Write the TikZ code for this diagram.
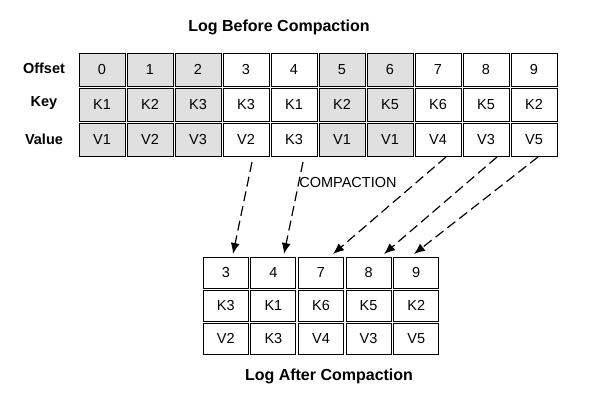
\documentclass[tikz,border=0pt]{standalone}
\usepackage{fontspec}
\setmainfont{Liberation Sans}
\usetikzlibrary{arrows.meta}
\begin{document}
\begin{tikzpicture}[x=1pt,y=-1pt,
  cellbox/.style={draw,line width=1pt,minimum width=46pt,minimum height=33pt,inner sep=0pt,text height=10pt,text depth=0pt,font=\fontsize{14.5}{16}\selectfont},
  gray/.style={fill=black!12},
  lbl/.style={font=\bfseries\fontsize{14.5}{16}\selectfont},
  arr/.style={-{Latex[length=11pt,width=9pt]},line width=1.2pt,dash pattern=on 10pt off 5pt}]
\useasboundingbox (0,0) rectangle (603,400);
\node[font=\bfseries\fontsize{16}{18}\selectfont] (t1) at (279,27) {Log Before Compaction};
\node[font=\bfseries\fontsize{16}{18}\selectfont] (t2) at (329,376) {Log After Compaction};
\node[lbl] (lo) at (44,68) {Offset};
\node[lbl] (lk) at (44,103) {Key};
\node[lbl] (lv) at (44,139) {Value};
\def\keys{{"K1","K2","K3","K3","K1","K2","K5","K6","K5","K2"}}
\def\vals{{"V1","V2","V3","V2","K3","V1","V1","V4","V3","V5"}}
\foreach \i in {0,...,9}{
  \pgfmathsetmacro\cx{78+24+48*\i}
  \pgfmathparse{(\i<3 || \i==5 || \i==6) ? "gray" : "draw"}\let\st\pgfmathresult
  \pgfmathparse{\keys[\i]}\let\kk\pgfmathresult
  \pgfmathparse{\vals[\i]}\let\vv\pgfmathresult
  \node[cellbox,minimum width=46pt,\st] (o\i) at (\cx,69.5) {\i};
  \node[cellbox,\st] (k\i) at (\cx,104.5) {\kk};
  \node[cellbox,\st] (v\i) at (\cx,139.5) {\vv};
}
\foreach \i/\o/\k/\v in {0/3/K3/V2,1/4/K1/K3,2/7/K6/V4,3/8/K5/V3,4/9/K2/V5}{
  \pgfmathsetmacro\cx{202+23.8+47.6*\i}
  \node[cellbox,minimum width=45pt,minimum height=31pt] (b\i) at (\cx,272.5) {\o};
  \node[cellbox,minimum width=45pt,minimum height=31pt] (c\i) at (\cx,305.5) {\k};
  \node[cellbox,minimum width=45pt,minimum height=31pt] (d\i) at (\cx,338.5) {\v};
}
\node[font=\fontsize{14.5}{16}\selectfont] (cp) at (348,183) {COMPACTION};
\coordinate (s0) at (252,162); \coordinate (e0) at (233,254);
\coordinate (s1) at (303,162); \coordinate (e1) at (284,254);
\coordinate (s2) at (446,157); \coordinate (e2) at (333,254);
\coordinate (s3) at (497,157); \coordinate (e3) at (384,254);
\coordinate (s4) at (538,157); \coordinate (e4) at (414,254);
\foreach \j in {0,...,4}{\draw[arr] (s\j) -- (e\j);}
\end{tikzpicture}
\end{document}
